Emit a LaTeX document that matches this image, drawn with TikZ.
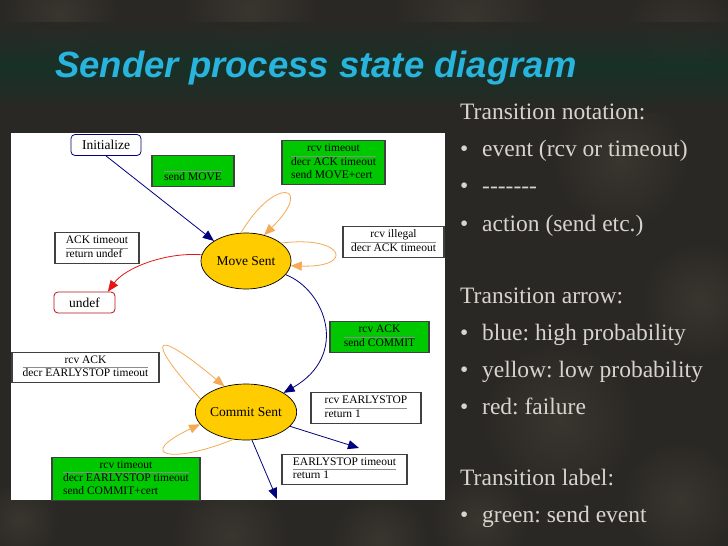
\documentclass[tikz,border=0pt]{standalone}
\usepackage{fontspec}
\setmainfont{Liberation Serif}
\newfontfamily\titlefont{Liberation Sans}
\usepackage{colortbl}
\usepackage{tikz}
\usetikzlibrary{positioning, shapes.geometric, arrows.meta}
\frenchspacing

\definecolor{navyline}{RGB}{0,0,128}
\definecolor{lowline}{RGB}{245,170,85}
\definecolor{failline}{RGB}{230,20,20}
\definecolor{sendgreen}{RGB}{0,200,0}
\definecolor{stategold}{RGB}{255,204,0}
\definecolor{titleblue}{RGB}{40,180,220}
\definecolor{legendgray}{RGB}{215,212,205}
\definecolor{bgdark}{RGB}{42,40,36}
\definecolor{bglight}{RGB}{72,68,60}
\definecolor{bggreen}{RGB}{22,50,40}

% event above the rule, action below it
\newcommand{\trans}[2]{{\arrayrulecolor{black!45}\begin{tabular}{@{}l@{}}\multicolumn{1}{@{}c@{}}{#1}\\\hline #2\end{tabular}}}
\newcommand{\bul}{\makebox[22pt][l]{\textbullet}}

\begin{document}
\begin{tikzpicture}[x=1pt, y=-1pt, >={Triangle[length=11pt,width=9pt]},
    state/.style={ellipse, draw=black, line width=0.7pt, fill=stategold, minimum width=90pt, minimum height=56pt, inner sep=0pt, font=\fontsize{13.5}{15}\selectfont},
    endbox/.style={rectangle, rounded corners=4pt, fill=white, line width=0.8pt, minimum height=21pt, inner sep=0pt, font=\fontsize{13.5}{15}\selectfont},
    event/.style={rectangle, draw=black!75, line width=1.2pt, fill=white, inner xsep=4pt, inner ysep=2pt, font=\fontsize{11.5}{13}\selectfont},
    sendevent/.style={event, fill=sendgreen},
    high/.style={->, draw=navyline, line width=0.8pt},
    low/.style={->, draw=lowline, line width=0.8pt},
    fail/.style={->, draw=failline, line width=0.8pt},
    legend/.style={text=legendgray, inner sep=0pt, text height=16pt, text depth=5pt, font=\fontsize{23.5}{26}\selectfont}]
  \useasboundingbox (0,0) rectangle (728,546);
  \fill[bgdark] (0,0) rectangle (728,546);
  % cloudy texture
  \foreach \cx/\cy/\r in {60/15/60, 250/10/70, 470/20/80, 680/40/60, 620/160/70, 700/300/60,
                          560/420/80, 680/500/60, 480/520/50, 20/520/40, 230/535/60, 380/540/50}
    \shade[inner color=bglight, outer color=bgdark, opacity=0.5] (\cx,\cy) circle (\r);
  \shade[top color=bgdark, bottom color=bgdark, middle color=bggreen, opacity=0.9] (0,22) rectangle (728,112);

  \node[anchor=base west, inner sep=0pt, text=titleblue, font=\titlefont\bfseries\itshape\fontsize{36.5}{40}\selectfont] (title) at (55,77) {Sender process state diagram};

  \fill[white] (11,133) rectangle (445,500);

  \node[endbox, draw=navyline, minimum width=70pt] (init) at (106,145) {Initialize};
  \node[sendevent, minimum width=82pt] (sendMove) at (193,171) {\trans{}{send MOVE}};
  \node[sendevent, minimum width=103pt] (rcvTimeout) at (333.5,162.5) {\trans{rcv timeout}{decr ACK timeout\\send MOVE+cert}};
  \node[event, minimum width=101pt] (rcvIllegal) at (393.5,242) {\trans{rcv illegal}{decr ACK timeout}};
  \node[event, minimum width=84pt] (ackTimeout) at (97,248) {\trans{ACK timeout}{return undef}};
  \node[endbox, draw=failline!80!black, minimum width=61pt] (undef) at (84.5,302.5) {undef};
  \node[state] (move) at (246,261) {Move Sent};
  \node[sendevent, minimum width=99pt] (rcvAck) at (379.5,337) {\trans{rcv ACK}{send COMMIT}};
  \node[state] (commit) at (246,412) {Commit Sent};
  \node[event, minimum width=110pt] (rcvEarly) at (366,408) {\trans{rcv EARLYSTOP}{return 1}};
  \node[event, minimum width=125pt] (earlyTimeout) at (344.5,469.5) {\trans{EARLYSTOP timeout}{return 1}};
  \node[event, minimum width=147pt] (rcvAckC) at (85.5,367.5) {\trans{rcv ACK}{decr EARLYSTOP timeout}};
  \node[sendevent, minimum width=148pt] (rcvTimeoutC) at (126,479) {\trans{rcv timeout}{decr EARLYSTOP timeout\\send COMMIT+cert}};

  \coordinate (stopEnd) at (359,448);
  \coordinate (timeoutEnd) at (277,499);

  \draw[high] (init.south) -- (move.north west);
  \draw[fail] (move.172) .. controls (165,252) and (125,268) .. (undef.25);
  \draw[low] (move.100) .. controls (275,175) and (315,185) .. (move.55);
  \draw[low] (move.27) .. controls (345,235) and (355,268) .. (move.-6);
  \draw[high] (move.-19) .. controls (325,290) and (350,355) .. (commit.27);
  \draw[low] (commit.164) .. controls (150,345) and (145,320) .. (commit.130);
  \draw[low] (commit.-115) .. controls (170,465) and (135,455) .. (commit.-165);
  \draw[high] (commit.-18) -- (stopEnd);
  \draw[high] (commit.-78) -- (timeoutEnd);

  \node[legend, anchor=base west] (notation) at (460,119) {Transition notation:};
  \node[legend, below right=16pt and 0pt of notation.south west] (event) {\bul event (rcv or timeout)};
  \node[legend, below right=16pt and 0pt of event.south west] (dashes) {\bul -{}-{}-{}-{}-{}-{}-};
  \node[legend, below right=16pt and 0pt of dashes.south west] (action) {\bul action (send etc.)};
  \node[legend, below right=51pt and 0pt of action.south west] (arrow) {Transition arrow:};
  \node[legend, below right=15.5pt and 0pt of arrow.south west] (blue) {\bul blue: high probability};
  \node[legend, below right=15.5pt and 0pt of blue.south west] (yellow) {\bul yellow: low probability};
  \node[legend, below right=15.5pt and 0pt of yellow.south west] (red) {\bul red: failure};
  \node[legend, below right=50pt and 0pt of red.south west] (label) {Transition label:};
  \node[legend, below right=15.5pt and 0pt of label.south west] (green) {\bul green: send event};
\end{tikzpicture}
\end{document}
